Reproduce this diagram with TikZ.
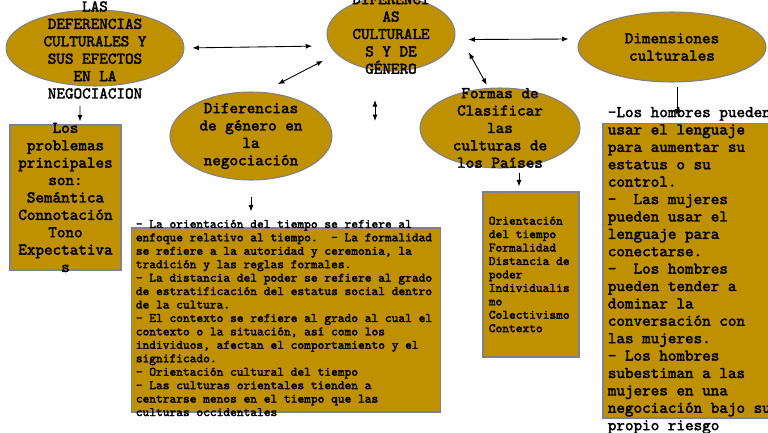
\documentclass[tikz,border=0pt]{standalone}
\usepackage{fontspec}
\setmonofont{lmmono10-regular.otf}[BoldFont=lmmono10-regular.otf, BoldFeatures={FakeBold=2.2}]
\usepackage{tikz}
\usetikzlibrary{arrows.meta}
\usetikzlibrary{calc, shapes.geometric}

\definecolor{gold}{RGB}{191,144,0}
\definecolor{edge}{RGB}{125,130,140}

\begin{document}
\begin{tikzpicture}[x=0.02cm, y=-0.02cm,
    bubble/.style={ellipse, draw=edge, fill=gold, line width=0.6pt, inner sep=0pt},
    panel/.style={rectangle, draw=edge, fill=gold, line width=0.6pt, inner sep=0pt},
    bigtxt/.style={font=\ttfamily\bfseries\fontsize{9.3}{9.9}\selectfont, align=center, inner sep=0pt},
    smalltxt/.style={font=\ttfamily\bfseries\fontsize{7.3}{7.65}\selectfont, align=left, inner sep=0pt, anchor=west},
    link/.style={black, line width=0.5pt, arrows={Latex[length=1.3mm,width=1mm]}-{Latex[length=1.3mm,width=1mm]}},
    downlink/.style={black, line width=0.5pt, arrows=-{Latex[length=1.3mm,width=1mm]}}]
          \useasboundingbox (0,0) rectangle (768,433);

          \node [bubble, minimum width=3.56cm, minimum height=1.52cm] (lefthead) at (95,48) {}; % Draws an ellipse
          \node [bubble, minimum width=2.56cm, minimum height=1.48cm] (tophead) at (391,34) {}; % Draws an ellipse
          \node [bubble, minimum width=3.76cm, minimum height=1.40cm] (dimhead) at (672,47) {}; % Draws an ellipse
          \node [bubble, minimum width=3.24cm, minimum height=1.76cm] (genhead) at (251,136) {}; % Draws an ellipse
          \node [bubble, minimum width=3.20cm, minimum height=1.60cm] (formhead) at (500,128) {}; % Draws an ellipse

          \node [panel, minimum width=2.22cm, minimum height=2.90cm] (probbox) at (65.5,197.5) {}; % Draws a rectangle
          \node [panel, minimum width=6.20cm, minimum height=3.68cm] (midbox) at (286,320) {}; % Draws a rectangle
          \node [panel, minimum width=1.92cm, minimum height=3.30cm] (orientbox) at (531,274.5) {}; % Draws a rectangle
          \node [panel, minimum width=3.38cm, minimum height=5.90cm] (dimbox) at (687.5,270.5) {}; % Draws a rectangle

          \node [bigtxt] at ($(lefthead)+(0,2)$) {LAS\\DEFERENCIAS\\CULTURALES Y\\SUS EFECTOS\\EN LA\\NEGOCIACION};
          \node [bigtxt] at (tophead) {DIFERENCI\\AS\\CULTURALE\\S Y DE\\GÉNERO};
          \node [bigtxt] at (dimhead) {Dimensiones\\culturales};
          \node [bigtxt] at (genhead) {Diferencias\\de género en\\la\\negociación};
          \node [bigtxt] at (formhead) {Formas de\\Clasificar\\las\\culturas de\\los Países};
          \node [bigtxt] at (probbox) {Los\\problemas\\principales\\son:\\Semántica\\Connotación\\Tono\\Expectativa\\s};

          \node [smalltxt] at ($(midbox.west)+(5,-2)$) {- La orientación del tiempo se refiere al\\enfoque relativo al tiempo.~ - La formalidad\\se refiere a la autoridad y ceremonia, la\\tradición y las reglas formales.\\- La distancia del poder se refiere al grado\\de estratificación del estatus social dentro\\de la cultura.\\- El contexto se refiere al grado al cual el\\contexto o la situación, así como los\\individuos, afectan el comportamiento y el\\significado.\\- Orientación cultural del tiempo\\- Las culturas orientales tienden a\\centrarse menos en el tiempo que las\\culturas occidentales};
          \node [smalltxt] at ($(orientbox.west)+(6,0)$) {Orientación\\del tiempo\\Formalidad\\Distancia de\\poder\\Individualis\\mo\\Colectivismo\\Contexto};
          \node [bigtxt, align=left, anchor=west] at ($(dimbox.west)+(5,0)$) {-Los hombres pueden\\usar el lenguaje\\para aumentar su\\estatus o su\\control.\\-~ Las mujeres\\pueden usar el\\lenguaje para\\conectarse.\\-~ Los hombres\\pueden tender a\\dominar la\\conversación con\\las mujeres.\\- Los hombres\\subestiman a las\\mujeres en una\\negociación bajo su\\propio riesgo};

          \coordinate (vtop) at (375,100);
          \coordinate (vbot) at (375,121);

          \draw [link, shorten <=4.5pt, shorten >=10pt] (lefthead.east) -- (tophead.191);
          \draw [link, shorten <=8.5pt, shorten >=9.7pt] (tophead.200) -- (genhead.75);
          \draw [link] (vtop) -- (vbot);
          \draw [link, shorten <=7.7pt, shorten >=6.5pt] (tophead.355) -- (dimhead.175);
          \draw [link, shorten <=21pt, shorten >=2pt] (tophead.13) -- (formhead.106);

          \draw [downlink] ($(lefthead.south)+(-15,19)$) -- ($(probbox.north)+(14.5,-3)$);
          \draw [downlink] ($(genhead.south)+(0,16)$) -- ($(midbox.north)+(-35,-16)$);
          \draw [downlink] ($(formhead.south)+(19,4)$) -- ($(orientbox.north)+(-12,-5)$);
          \draw [downlink] ($(dimhead.south)+(5,4)$) -- ($(dimbox.north)+(-10.5,-7)$);
        \end{tikzpicture}
\end{document}
